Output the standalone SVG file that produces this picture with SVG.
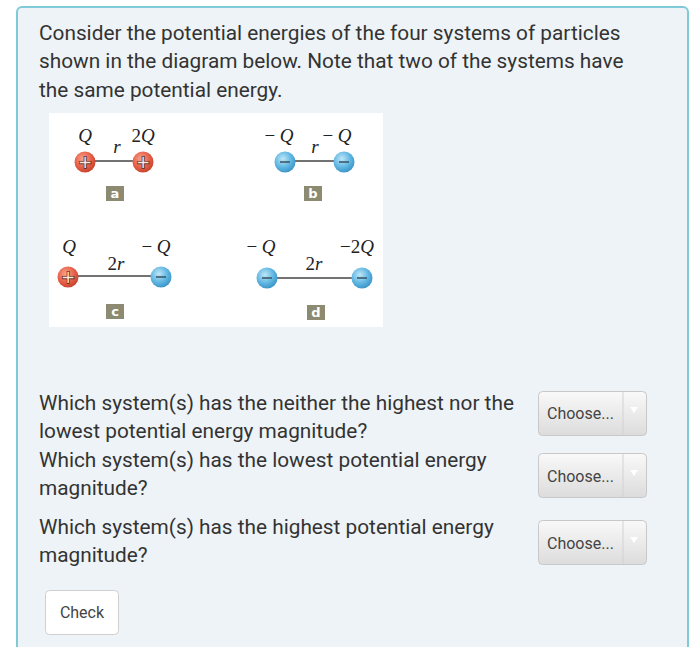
<svg xmlns="http://www.w3.org/2000/svg" width="700" height="647" viewBox="0 0 700 647">
<defs>
<radialGradient id="gr" cx="0.4" cy="0.35" r="0.65">
<stop offset="0" stop-color="#f7a48f"/><stop offset="0.6" stop-color="#e8624b"/><stop offset="1" stop-color="#c9442f"/>
</radialGradient>
<radialGradient id="gb" cx="0.4" cy="0.35" r="0.65">
<stop offset="0" stop-color="#bfe6f7"/><stop offset="0.6" stop-color="#62b8e3"/><stop offset="1" stop-color="#3d97c8"/>
</radialGradient>
<linearGradient id="gs" x1="0" y1="0" x2="0" y2="1">
<stop offset="0" stop-color="#f9f9f9"/><stop offset="1" stop-color="#dcdcdc"/>
</linearGradient>
<style>
.body{font-family:Roboto,"Liberation Sans",sans-serif;font-size:20.8px;fill:#333}
.sym{font-family:"Liberation Serif",serif;font-style:italic;font-size:19px;fill:#222}
.wire{stroke:#444;stroke-width:1.4}
.pl{font-family:"DejaVu Sans",sans-serif;font-size:17px;fill:#fde6df;stroke:#5a2a20;stroke-width:1.6;paint-order:stroke;text-anchor:middle}
.mn{stroke:#3a5a6a;stroke-width:1.6}
.tag{fill:#8c8a70}
.tagt{font-family:"DejaVu Sans",sans-serif;font-size:13px;font-weight:bold;fill:#fff;text-anchor:middle}
.sel{fill:url(#gs);stroke:#c8c8c8;stroke-width:1}
.selt{font-family:Roboto,"Liberation Sans",sans-serif;font-size:16px;fill:#444}
</style>
</defs>
<rect x="0" y="0" width="700" height="647" fill="#ffffff"/>
<rect x="17" y="7" width="671" height="660" rx="5" fill="#eef3f7" stroke="#7fcad9" stroke-width="2"/>
<g id="intro">
<text class="body" x="39" y="40">Consider the potential energies of the four systems of particles</text>
<text class="body" x="39" y="68">shown in the diagram below. Note that two of the systems have</text>
<text class="body" x="39" y="97">the same potential energy.</text>
</g>
<rect id="panel" x="49" y="113" width="334" height="214" fill="#ffffff"/>
<g id="connectors">
<line class="wire" x1="85" y1="161" x2="143" y2="161"/>
<line class="wire" x1="285" y1="161" x2="344" y2="161"/>
<line class="wire" x1="68" y1="276" x2="161" y2="276"/>
<line class="wire" x1="267" y1="278" x2="362" y2="278"/>
</g>
<g id="system-a">
<circle cx="85" cy="162" r="10.5" fill="url(#gr)"/>
<text class="pl" x="85" y="168">+</text>
<circle cx="143" cy="162" r="10.5" fill="url(#gr)"/>
<text class="pl" x="143" y="168">+</text>
<text class="sym" x="85" y="142" text-anchor="middle">Q</text>
<text class="sym" x="143" y="142" text-anchor="middle"><tspan font-style="normal">2</tspan>Q</text>
<text class="sym" x="117" y="153" text-anchor="middle">r</text>
<rect class="tag" x="106" y="186" width="18" height="15"/>
<text class="tagt" x="115" y="198">a</text>
</g>
<g id="system-b">
<circle cx="285" cy="162" r="10.5" fill="url(#gb)"/>
<line class="mn" x1="280" y1="162" x2="290" y2="162"/>
<circle cx="344" cy="162" r="10.5" fill="url(#gb)"/>
<line class="mn" x1="339" y1="162" x2="349" y2="162"/>
<text class="sym" x="279" y="142" text-anchor="middle"><tspan font-style="normal">− </tspan>Q</text>
<text class="sym" x="337" y="142" text-anchor="middle"><tspan font-style="normal">− </tspan>Q</text>
<text class="sym" x="315" y="153" text-anchor="middle">r</text>
<rect class="tag" x="304" y="186" width="18" height="15"/>
<text class="tagt" x="313" y="198">b</text>
</g>
<g id="system-c">
<circle cx="68" cy="277" r="10.5" fill="url(#gr)"/>
<text class="pl" x="68" y="283">+</text>
<circle cx="161" cy="277" r="10.5" fill="url(#gb)"/>
<line class="mn" x1="156" y1="277" x2="166" y2="277"/>
<text class="sym" x="69" y="253" text-anchor="middle">Q</text>
<text class="sym" x="156" y="253" text-anchor="middle"><tspan font-style="normal">− </tspan>Q</text>
<text class="sym" x="116" y="270" text-anchor="middle"><tspan font-style="normal">2</tspan>r</text>
<rect class="tag" x="106" y="304" width="18" height="15"/>
<text class="tagt" x="115" y="316">c</text>
</g>
<g id="system-d">
<circle cx="267" cy="278" r="10.5" fill="url(#gb)"/>
<line class="mn" x1="262" y1="278" x2="272" y2="278"/>
<circle cx="362" cy="278" r="10.5" fill="url(#gb)"/>
<line class="mn" x1="357" y1="278" x2="367" y2="278"/>
<text class="sym" x="261" y="253" text-anchor="middle"><tspan font-style="normal">− </tspan>Q</text>
<text class="sym" x="357" y="253" text-anchor="middle"><tspan font-style="normal">−2</tspan>Q</text>
<text class="sym" x="314" y="270" text-anchor="middle"><tspan font-style="normal">2</tspan>r</text>
<rect class="tag" x="307" y="305" width="18" height="15"/>
<text class="tagt" x="316" y="317">d</text>
</g>
<g id="questions">
<text class="body" x="39" y="410">Which system(s) has the neither the highest nor the</text>
<text class="body" x="39" y="438">lowest potential energy magnitude?</text>
<text class="body" x="39" y="467">Which system(s) has the lowest potential energy</text>
<text class="body" x="39" y="495">magnitude?</text>
<text class="body" x="39" y="534">Which system(s) has the highest potential energy</text>
<text class="body" x="39" y="562">magnitude?</text>
</g>
<g id="select-1">
<rect class="sel" x="538.5" y="391.5" width="108" height="44" rx="4"/>
<line x1="623" y1="392" x2="623" y2="435" stroke="#d2d2d2"/>
<text class="selt" x="547" y="419">Choose...</text>
<path d="M630,407 L638,407 L634,413 Z" fill="#ffffff"/>
</g>
<g id="select-2">
<rect class="sel" x="538.5" y="453.5" width="108" height="44" rx="4"/>
<line x1="623" y1="454" x2="623" y2="497" stroke="#d2d2d2"/>
<text class="selt" x="547" y="482">Choose...</text>
<path d="M630,470 L638,470 L634,476 Z" fill="#ffffff"/>
</g>
<g id="select-3">
<rect class="sel" x="538.5" y="520.5" width="108" height="44" rx="4"/>
<line x1="623" y1="521" x2="623" y2="564" stroke="#d2d2d2"/>
<text class="selt" x="547" y="549">Choose...</text>
<path d="M630,537 L638,537 L634,543 Z" fill="#ffffff"/>
</g>
<g id="check">
<rect x="45.5" y="590.5" width="73" height="44" rx="4" fill="#ffffff" stroke="#cfcfcf"/>
<text class="selt" x="82" y="618" text-anchor="middle">Check</text>
</g>
</svg>
